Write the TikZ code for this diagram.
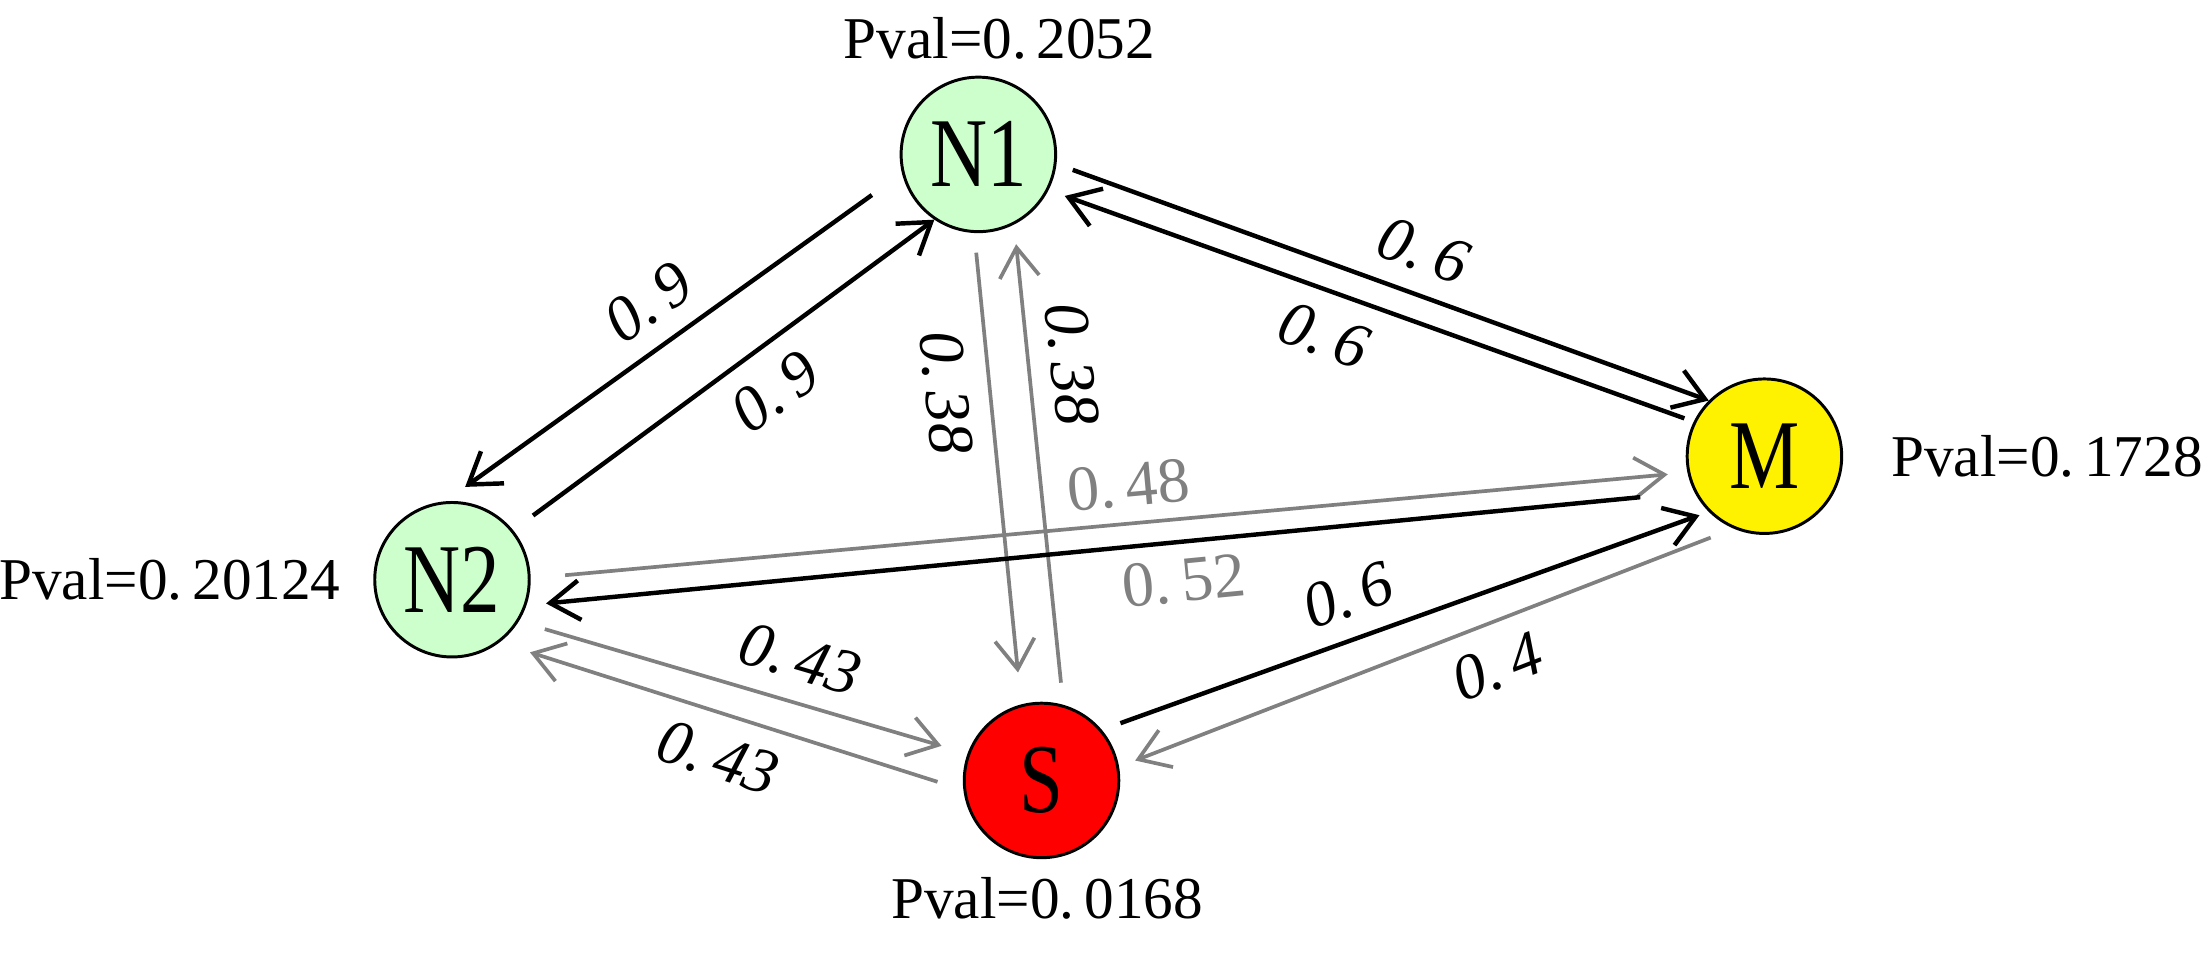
\documentclass[tikz,border=0pt]{standalone}
\usepackage{fontspec}
\setmainfont{Liberation Serif}
\usetikzlibrary{arrows.meta}
\definecolor{lgreen}{RGB}{204,255,204}
\begin{document}
\begin{tikzpicture}[x=0.01cm,y=-0.01cm,
  state/.style={circle,draw,line width=0.6pt,minimum size=1.1cm,inner sep=0pt,font=\fontsize{20}{20}\selectfont},
  pv/.style={font=\fontsize{12}{12}\selectfont},
  blk/.style={draw=black,line width=0.9pt,-{Straight Barb[length=6pt,width=8pt]}},
  gry/.style={draw=gray,line width=0.75pt,-{Straight Barb[length=6pt,width=8pt]}},
  lab/.style={font=\fontsize{13}{13}\selectfont\itshape,sloped,inner sep=4pt},
  glab/.style={font=\fontsize{13}{13}\selectfont,text=gray,sloped,inner sep=3pt}]
\useasboundingbox (0,0) rectangle (1568,679);
\node[state,fill=lgreen] (N1) at (697,110) {\scalebox{0.8}[1]{N1}};
\node[state,fill=lgreen] (N2) at (322,413) {\scalebox{0.8}[1]{N2}};
\node[state,fill=yellow] (M) at (1257,325) {\scalebox{0.8}[1]{M}};
\node[state,fill=red] (S) at (742,556) {\scalebox{0.8}[1]{S}};
\node[pv] (p1) at (712,27) {Pval=0.\,2052};
\node[pv,anchor=east] (p2) at (255,413) {Pval=0.\,20124};
\node[pv,anchor=west] (p3) at (1335,325) {Pval=0.\,1728};
\node[pv] (p4) at (746,640) {Pval=0.\,0168};
% N1-N2
\draw[blk,shorten <=7.5pt,shorten >=5pt] (N1.194) -- (N2.95) node[lab,pos=0.5,above] {0.\,9};
\draw[blk,shorten <=5pt,shorten >=0pt] (N2.39) -- (N1.236) node[lab,pos=0.56,below] {0.\,9};
% N1-S
\draw[gry,shorten <=4pt,shorten >=6.5pt] (N1.267) -- (S.105) node[lab,pos=0.33,below] {0.\,38};
\draw[gry,shorten <=4.5pt,shorten >=4pt] (S.74) -- (N1.297) node[lab,pos=0.7,above] {0.\,38};
% N1-M
\draw[blk,shorten <=3.5pt,shorten >=0pt] (N1.353) -- (M.135) node[lab,pos=0.54,above] {0.\,6};
\draw[blk,shorten <=2pt,shorten >=3.5pt] (M.154) -- (N1.333) node[lab,pos=0.55,below] {0.\,6};
% N2-M
\draw[gry,shorten <=7pt,shorten >=4pt] (N2.1) -- (M.192) node[glab,pos=0.52,above] {0.\,48};
\draw[blk,shorten <=11pt,shorten >=4pt] (M.207) -- (N2.-19) node[glab,pos=0.44,below] {0.\,52};
% N2-S
\draw[gry,shorten <=5.5pt,shorten >=5.5pt] (N2.-32) -- (S.160) node[lab,pos=0.6,above] {0.\,43};
\draw[gry,shorten <=5.5pt,shorten >=6.5pt] (S.187) -- (N2.-53) node[lab,pos=0.5,below] {0.\,43};
% S-M
\draw[blk,shorten <=4pt,shorten >=2pt] (S.40) -- (M.225) node[lab,pos=0.43,above] {0.\,6};
\draw[gry,shorten <=5pt,shorten >=3.5pt] (M.247) -- (S.10) node[lab,pos=0.41,below] {0.\,4};
\end{tikzpicture}
\end{document}
